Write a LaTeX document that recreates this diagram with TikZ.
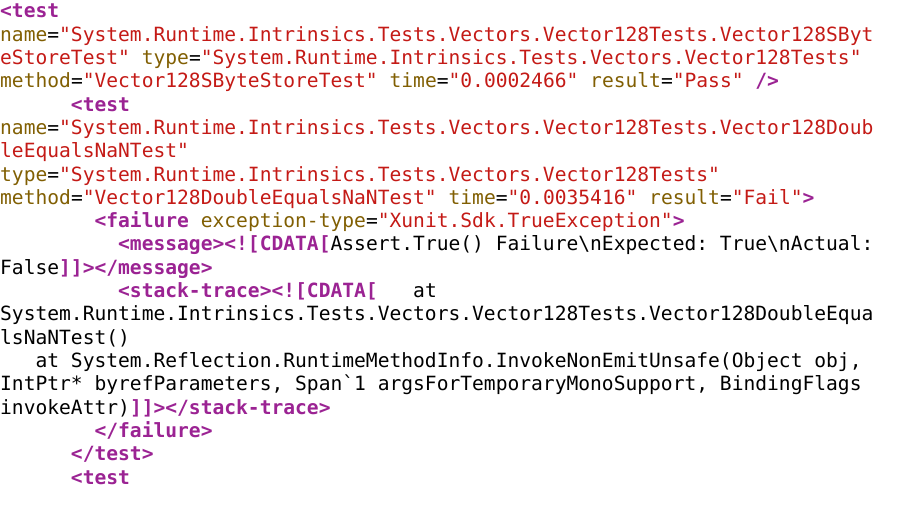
\documentclass[tikz,border=0pt]{standalone}
\usepackage{fontspec}
\setmonofont{DejaVu Sans Mono}
\definecolor{tagc}{HTML}{9B2393}
\definecolor{attc}{HTML}{815F03}
\definecolor{strc}{HTML}{C41A16}
\newcommand{\tg}[1]{\textcolor{tagc}{\bfseries #1}}
\newcommand{\att}[1]{\textcolor{attc}{#1}}
\newcommand{\st}[1]{\textcolor{strc}{#1}}
\begin{document}
\begin{tikzpicture}[x=1bp,y=1bp,
  ln/.style={anchor=base west,inner sep=0pt,font=\ttfamily\fontsize{19.6bp}{23.3bp}\selectfont}]
\useasboundingbox (0,0) rectangle (902,-518);
\def\cw{11.8}
\def\lh{23.3}
% line n at indent k: (k*cw, -(18+(n-1)*lh))
\node[ln] (l1) at (0,-18) {\tg{<test}};
\node[ln] (l2) at (0,-18-\lh) {\att{name}=\st{"System.Runtime.Intrinsics.Tests.Vectors.Vector128Tests.Vector128SByt}};
\node[ln] (l3) at (0,-18-2*\lh) {\st{eStoreTest"} \att{type}=\st{"System.Runtime.Intrinsics.Tests.Vectors.Vector128Tests"}};
\node[ln] (l4) at (0,-18-3*\lh) {\att{method}=\st{"Vector128SByteStoreTest"} \att{time}=\st{"0.0002466"} \att{result}=\st{"Pass"} \tg{/>}};
\node[ln] (l5) at (6*\cw,-18-4*\lh) {\tg{<test}};
\node[ln] (l6) at (0,-18-5*\lh) {\att{name}=\st{"System.Runtime.Intrinsics.Tests.Vectors.Vector128Tests.Vector128Doub}};
\node[ln] (l7) at (0,-18-6*\lh) {\st{leEqualsNaNTest"}};
\node[ln] (l8) at (0,-18-7*\lh) {\att{type}=\st{"System.Runtime.Intrinsics.Tests.Vectors.Vector128Tests"}};
\node[ln] (l9) at (0,-18-8*\lh) {\att{method}=\st{"Vector128DoubleEqualsNaNTest"} \att{time}=\st{"0.0035416"} \att{result}=\st{"Fail"}\tg{>}};
\node[ln] (l10) at (8*\cw,-18-9*\lh) {\tg{<failure} \att{exception-type}=\st{"Xunit.Sdk.TrueException"}\tg{>}};
\node[ln] (l11) at (10*\cw,-18-10*\lh) {\tg{<message><![CDATA[}Assert.True() Failure\textbackslash nExpected: True\textbackslash nActual:};
\node[ln] (l12) at (0,-18-11*\lh) {False\tg{]]></message>}};
\node[ln] (l13) at (10*\cw,-18-12*\lh) {\tg{<stack-trace><![CDATA[}\ \ \ at};
\node[ln] (l14) at (0,-18-13*\lh) {System.Runtime.Intrinsics.Tests.Vectors.Vector128Tests.Vector128DoubleEqua};
\node[ln] (l15) at (0,-18-14*\lh) {lsNaNTest()};
\node[ln] (l16) at (3*\cw,-18-15*\lh) {at System.Reflection.RuntimeMethodInfo.InvokeNonEmitUnsafe(Object obj,};
\node[ln] (l17) at (0,-18-16*\lh) {IntPtr* byrefParameters, Span`1 argsForTemporaryMonoSupport, BindingFlags};
\node[ln] (l18) at (0,-18-17*\lh) {invokeAttr)\tg{]]></stack-trace>}};
\node[ln] (l19) at (8*\cw,-18-18*\lh) {\tg{</failure>}};
\node[ln] (l20) at (6*\cw,-18-19*\lh) {\tg{</test>}};
\node[ln] (l21) at (6*\cw,-18-20*\lh) {\tg{<test}};
\end{tikzpicture}
\end{document}
